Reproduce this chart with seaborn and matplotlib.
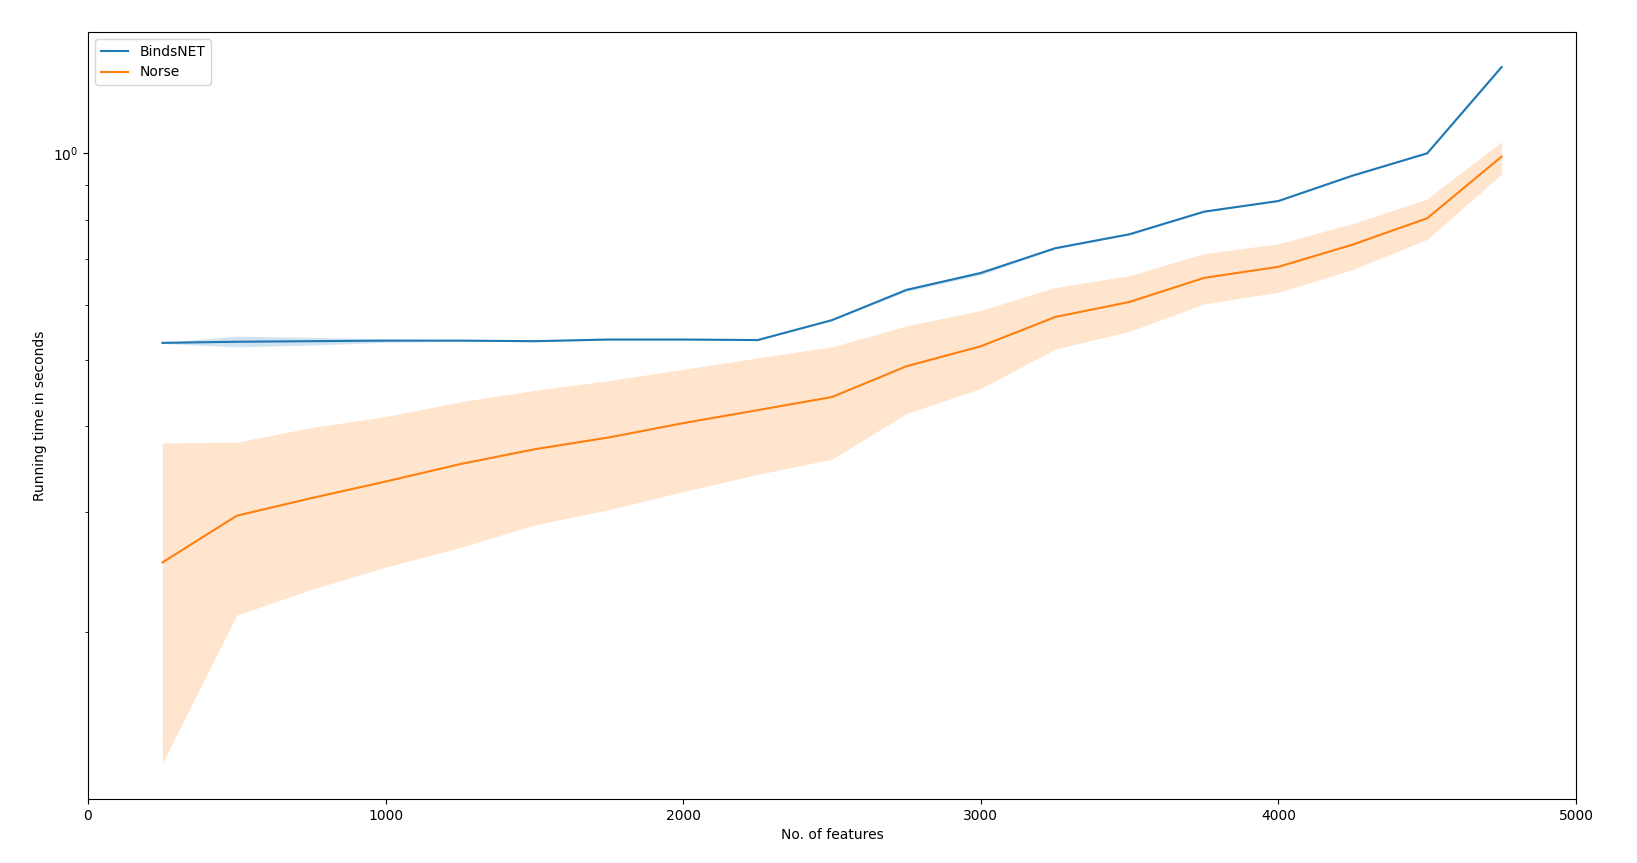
import matplotlib
matplotlib.use("Agg")
import matplotlib.pyplot as plt
import seaborn as sns
import numpy as np
import pandas as pd

features = [250, 500, 750, 1000, 1250, 1500, 1750, 2000, 2250, 2500,
            2750, 3000, 3250, 3500, 3750, 4000, 4250, 4500, 4750]

bindsnet_mean = [0.529, 0.531, 0.532, 0.533, 0.533, 0.532, 0.535, 0.535, 0.534, 0.571,
                 0.632, 0.669, 0.727, 0.762, 0.822, 0.852, 0.928, 1.000, 1.336]
bindsnet_low = [0.528, 0.522, 0.525, 0.530, 0.532, 0.531, 0.534, 0.534, 0.533, 0.570,
                0.629, 0.665, 0.725, 0.760, 0.820, 0.850, 0.926, 0.998, 1.333]
bindsnet_high = [0.530, 0.541, 0.539, 0.536, 0.534, 0.533, 0.536, 0.536, 0.535, 0.572,
                 0.635, 0.673, 0.729, 0.764, 0.824, 0.854, 0.930, 1.002, 1.339]

norse_mean = [0.253, 0.296, 0.314, 0.332, 0.352, 0.370, 0.385, 0.404, 0.422, 0.441,
              0.489, 0.523, 0.577, 0.607, 0.658, 0.683, 0.736, 0.804, 0.989]
norse_low = [0.129, 0.212, 0.231, 0.249, 0.266, 0.287, 0.302, 0.321, 0.340, 0.358,
             0.417, 0.454, 0.518, 0.550, 0.603, 0.627, 0.677, 0.749, 0.933]
norse_high = [0.378, 0.379, 0.398, 0.413, 0.434, 0.451, 0.466, 0.484, 0.503, 0.522,
              0.560, 0.590, 0.637, 0.663, 0.714, 0.738, 0.790, 0.858, 1.040]

frameworks = ["BindsNET", "Norse"]
colors = ["#1f77b4", "#ff7f0e"]

df = pd.DataFrame({
    "features": features * 2,
    "time": bindsnet_mean + norse_mean,
    "framework": [frameworks[0]] * len(features) + [frameworks[1]] * len(features),
})

fig = plt.figure(figsize=(16.37, 8.63), dpi=100)
ax = fig.add_axes([88 / 1637, 1 - 799 / 863, (1576 - 88) / 1637, (799 - 32) / 863])

sns.lineplot(data=df, x="features", y="time", hue="framework",
             palette=colors, errorbar=None, ax=ax, linewidth=1.5)

ax.fill_between(features, bindsnet_low, bindsnet_high, color=colors[0], alpha=0.2, linewidth=0)
ax.fill_between(features, norse_low, norse_high, color=colors[1], alpha=0.2, linewidth=0)

ax.set_yscale("log")
ax.set_xlim(0, 5000)
ax.set_ylim(0.1143, 1.503)
ax.set_xlabel("No. of features")
ax.set_ylabel("Running time in seconds")
ax.legend(loc="upper left")

fig.savefig("out.png", dpi=100)
